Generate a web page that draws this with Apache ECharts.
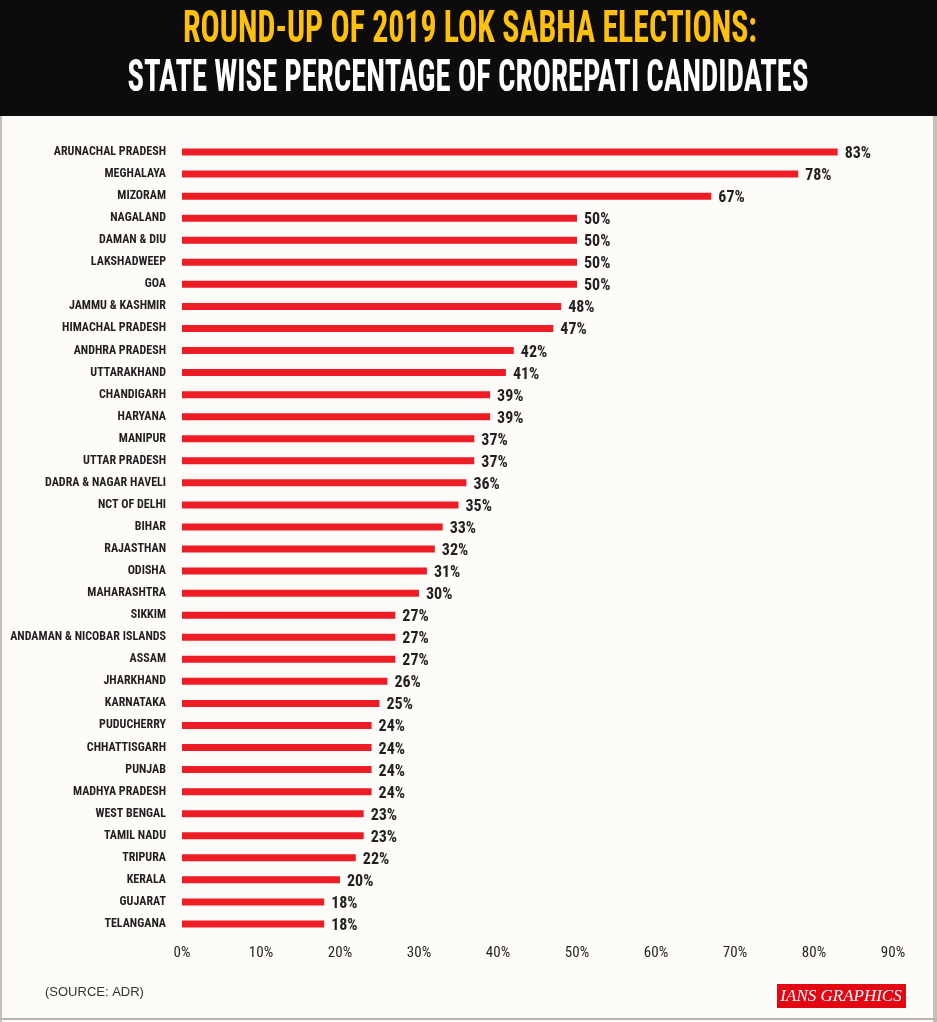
<!DOCTYPE html>
<html>
<head>
<meta charset="utf-8">
<title>Crorepati candidates 2019</title>
<script src="https://cdn.jsdelivr.net/npm/echarts@6/dist/echarts.min.js"></script>
<style>
  html, body { margin: 0; padding: 0; background: #fdfcf8; }
  #chart { width: 937px; height: 1022px; }
</style>
</head>
<body>
<div id="chart"></div>
<script>
// states, top to bottom
const states = [
  "ARUNACHAL PRADESH", "MEGHALAYA", "MIZORAM", "NAGALAND", "DAMAN & DIU",
  "LAKSHADWEEP", "GOA", "JAMMU & KASHMIR", "HIMACHAL PRADESH", "ANDHRA PRADESH",
  "UTTARAKHAND", "CHANDIGARH", "HARYANA", "MANIPUR", "UTTAR PRADESH",
  "DADRA & NAGAR HAVELI", "NCT OF DELHI", "BIHAR", "RAJASTHAN", "ODISHA",
  "MAHARASHTRA", "SIKKIM", "ANDAMAN & NICOBAR ISLANDS", "ASSAM", "JHARKHAND",
  "KARNATAKA", "PUDUCHERRY", "CHHATTISGARH", "PUNJAB", "MADHYA PRADESH",
  "WEST BENGAL", "TAMIL NADU", "TRIPURA", "KERALA", "GUJARAT", "TELANGANA"
];
// % of crorepati candidates
const crorepatiPct = [
  83, 78, 67, 50, 50,
  50, 50, 48, 47, 42,
  41, 39, 39, 37, 37,
  36, 35, 33, 32, 31,
  30, 27, 27, 27, 26,
  25, 24, 24, 24, 24,
  23, 23, 22, 20, 18, 18
];
const xTicks = [0, 10, 20, 30, 40, 50, 60, 70, 80, 90];

const title1 = "ROUND-UP OF 2019 LOK SABHA ELECTIONS:";
const title2 = "STATE WISE PERCENTAGE OF CROREPATI CANDIDATES";

const condensed = "'Roboto Condensed', 'DejaVu Sans Condensed', sans-serif";
const titleFont = "bold 44px " + condensed;

// squeeze title lines to the widths of the original poster
const ctx = document.createElement("canvas").getContext("2d");
ctx.font = titleFont;
const sx1 = 574 / ctx.measureText(title1).width;
const sx2 = 681 / ctx.measureText(title2).width;

const chart = echarts.init(document.getElementById("chart"));

const option = {
  backgroundColor: "#fdfcf8",
  animation: false,
  grid: {
    left: 182, right: 44, top: 141, height: 794,
    containLabel: false,
    outerBoundsMode: "none"
  },
  xAxis: {
    type: "value",
    min: xTicks[0],
    max: xTicks[xTicks.length - 1],
    interval: 10,
    axisLine: { show: false },
    axisTick: { show: false },
    splitLine: { show: false },
    axisLabel: {
      margin: 11,
      fontFamily: condensed,
      fontSize: 15,
      color: "#231f20",
      formatter: v => v + "%"
    }
  },
  yAxis: {
    type: "category",
    data: states,
    inverse: true,
    axisLine: { show: false },
    axisTick: { show: false },
    axisLabel: {
      margin: 16,
      fontFamily: condensed,
      fontWeight: "bold",
      fontSize: 12,
      color: "#231f20",
      padding: [2, 0, 0, 0]
    }
  },
  series: [
    {
      type: "bar",
      data: crorepatiPct,
      barWidth: 7,
      itemStyle: { color: "#ee1c25" },
      label: {
        show: true,
        position: "right",
        distance: 7,
        offset: [0, 2],
        fontFamily: condensed,
        fontWeight: "bold",
        fontSize: 16,
        color: "#231f20",
        formatter: p => p.value + "%"
      }
    }
  ],
  graphic: [
    // header band
    { type: "rect", left: 0, top: 0, shape: { width: 937, height: 116 }, style: { fill: "#0d0b0b" } },
    {
      type: "text", x: 470, y: 31, scaleX: sx1,
      style: {
        text: title1,
        fill: "#fcc00d",
        font: titleFont,
        align: "center",
        verticalAlign: "middle"
      }
    },
    {
      type: "text", x: 468, y: 80, scaleX: sx2,
      style: {
        text: title2,
        fill: "#ffffff",
        font: titleFont,
        align: "center",
        verticalAlign: "middle"
      }
    },
    // frame edges
    { type: "rect", left: 0, top: 116, shape: { width: 2, height: 906 }, style: { fill: "#c4c1b9" } },
    { type: "rect", left: 933, top: 116, shape: { width: 4, height: 906 }, style: { fill: "#c4c1b9" } },
    { type: "rect", left: 0, top: 1018, shape: { width: 937, height: 2 }, style: { fill: "#b9b6ae" } },
    // source
    {
      type: "text", left: 45, top: 986,
      style: {
        text: "(SOURCE: ADR)",
        fill: "#333",
        font: "13px 'Liberation Sans', Arial, sans-serif"
      }
    },
    // credit box
    { type: "rect", left: 777, top: 984, shape: { width: 129, height: 24 }, style: { fill: "#e30613" } },
    {
      type: "text", x: 841, y: 997,
      style: {
        text: "IANS GRAPHICS",
        fill: "#ffffff",
        font: "italic 17px 'Liberation Serif', 'DejaVu Serif', serif",
        align: "center",
        verticalAlign: "middle"
      }
    }
  ]
};

chart.setOption(option);
</script>
</body>
</html>
